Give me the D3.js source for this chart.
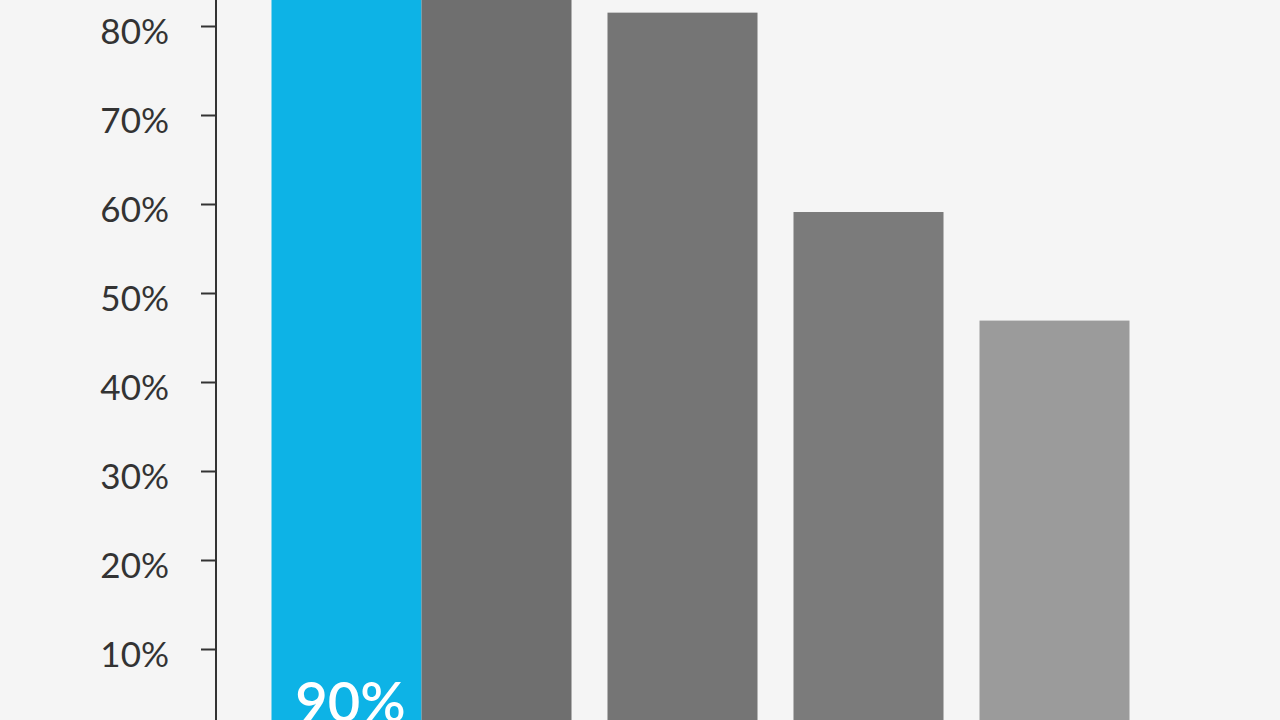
<!DOCTYPE html>
<html><head><meta charset="utf-8">
<script src="https://cdn.jsdelivr.net/npm/d3@7"></script>
<style>html,body{margin:0;padding:0;background:#f5f5f5;overflow:hidden}</style>
</head><body>
<svg id="c" width="1280" height="720"></svg>
<script>
const categories = ["A", "B", "C", "D", "E"];
const values = [0.90, 0.87, 0.815, 0.591, 0.469];
const barColors = ["#0db3e6", "#6f6f6f", "#757575", "#7b7b7b", "#9b9b9b"];
const tickValues = [0.1, 0.2, 0.3, 0.4, 0.5, 0.6, 0.7, 0.8];
const highlightLabel = "90%";

const svg = d3.select("#c");
svg.append("rect").attr("width", 1280).attr("height", 720).attr("fill", "#f5f5f5");

const y = d3.scaleLinear().domain([0, 1]).range([738, -152]);
const x = d3.scaleBand().domain(categories).range([235.5, 235.5 + 5 * 186 - 36]).paddingInner(36 / 186).paddingOuter(0);
const shift = (d, i) => i === 0 ? x.step() - x.bandwidth() : 0;

svg.selectAll("rect.bar").data(values).join("rect")
  .attr("class", "bar")
  .attr("x", (d, i) => x(categories[i]) + shift(d, i))
  .attr("width", x.bandwidth())
  .attr("y", d => y(d))
  .attr("height", d => y(0) - y(d))
  .attr("fill", (d, i) => barColors[i]);

const axis = d3.axisLeft(y).tickValues(tickValues).tickSize(15).tickPadding(32)
  .tickFormat(d3.format(".0%"));
const g = svg.append("g").attr("transform", "translate(216,0)").call(axis);
g.select(".domain").attr("stroke", "#333").attr("stroke-width", 2).attr("d", "M0,-10V730");
g.selectAll(".tick line").attr("stroke", "#333").attr("stroke-width", 2);
g.selectAll(".tick text").attr("fill", "#333").attr("font-family", "Lato, 'Open Sans', sans-serif")
  .attr("font-size", 35).attr("dy", "0.5em");

svg.append("text")
  .attr("x", x(categories[0]) + shift(values[0], 0) + x.bandwidth() / 2 + 4)
  .attr("y", 722)
  .attr("text-anchor", "middle")
  .attr("fill", "#fff")
  .attr("font-family", "Lato, 'Open Sans', sans-serif")
  .attr("font-weight", 600)
  .attr("font-size", 56)
  .text(highlightLabel);
</script>
</body></html>
